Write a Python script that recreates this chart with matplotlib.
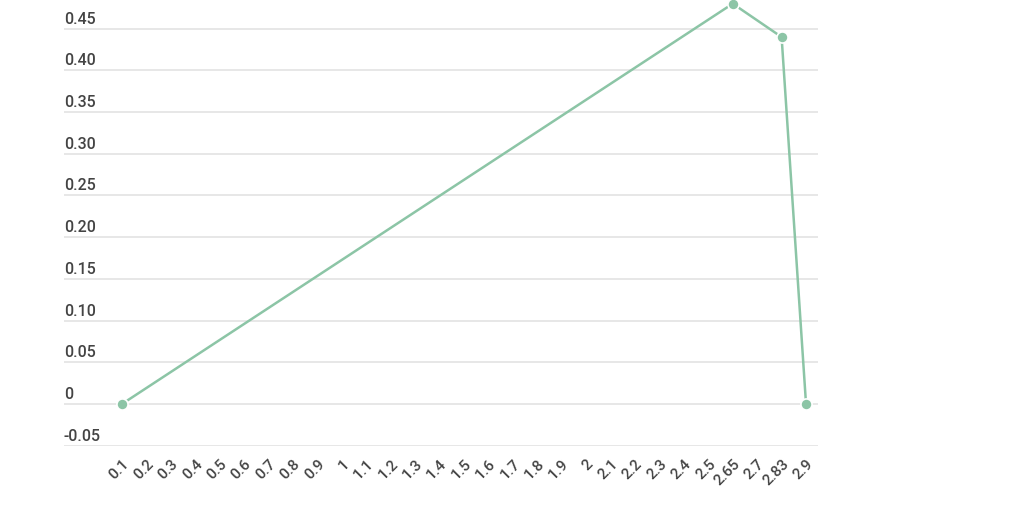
import matplotlib
matplotlib.use("Agg")
import matplotlib.pyplot as plt
import numpy as np

plt.rcParams['font.family'] = ['Roboto', 'DejaVu Sans']

# data
categories = ['0.1', '0.2', '0.3', '0.4', '0.5', '0.6', '0.7', '0.8', '0.9', '1',
              '1.1', '1.2', '1.3', '1.4', '1.5', '1.6', '1.7', '1.8', '1.9', '2',
              '2.1', '2.2', '2.3', '2.4', '2.5', '2.65', '2.7', '2.83', '2.9']
values = [0, None, None, None, None, None, None, None, None, None,
          None, None, None, None, None, None, None, None, None, None,
          None, None, None, None, None, 0.48, None, 0.44, 0]
y_ticks = [-0.05, 0, 0.05, 0.10, 0.15, 0.20, 0.25, 0.30, 0.35, 0.40, 0.45]
y_labels = ['-0.05', '0', '0.05', '0.10', '0.15', '0.20', '0.25', '0.30', '0.35', '0.40', '0.45']

line_color = '#8cc5a6'
text_color = '#444444'

fig = plt.figure(figsize=(10.24, 5.12), dpi=100)
ax = fig.add_axes([64 / 1024, (512 - 445.7) / 512, (818 - 64) / 1024, 445.7 / 512])

# only the points with values, joined up
xs = [i for i, v in enumerate(values) if v is not None]
ys = [v for v in values if v is not None]
ax.plot(xs, ys, color=line_color, lw=1.8, marker='o', ms=8,
        mfc=line_color, mec='white', mew=1.2, clip_on=False, zorder=3)

ax.set_xlim(-2.374, 28.49)
ax.set_ylim(-0.05, 0.4844)

# grid + y labels sitting on the lines
for t, lab in zip(y_ticks, y_labels):
    ax.axhline(t, color='#e0e0e0', lw=1.1, zorder=1)
    ax.annotate(lab, xy=(0, t), xycoords=('axes fraction', 'data'),
                xytext=(0, 1.5), textcoords='offset points',
                ha='left', va='bottom', fontsize=11.5, fontweight='medium',
                color=text_color)

ax.set_yticks([])
ax.set_xticks(range(len(categories)))
ax.set_xticklabels(categories, rotation=45, ha='right', va='top',
                   rotation_mode='anchor', fontsize=11, fontweight='medium',
                   color=text_color)
ax.tick_params(axis='x', length=0, pad=8)
for s in ax.spines.values():
    s.set_visible(False)

plt.savefig('out.png', dpi=100)
